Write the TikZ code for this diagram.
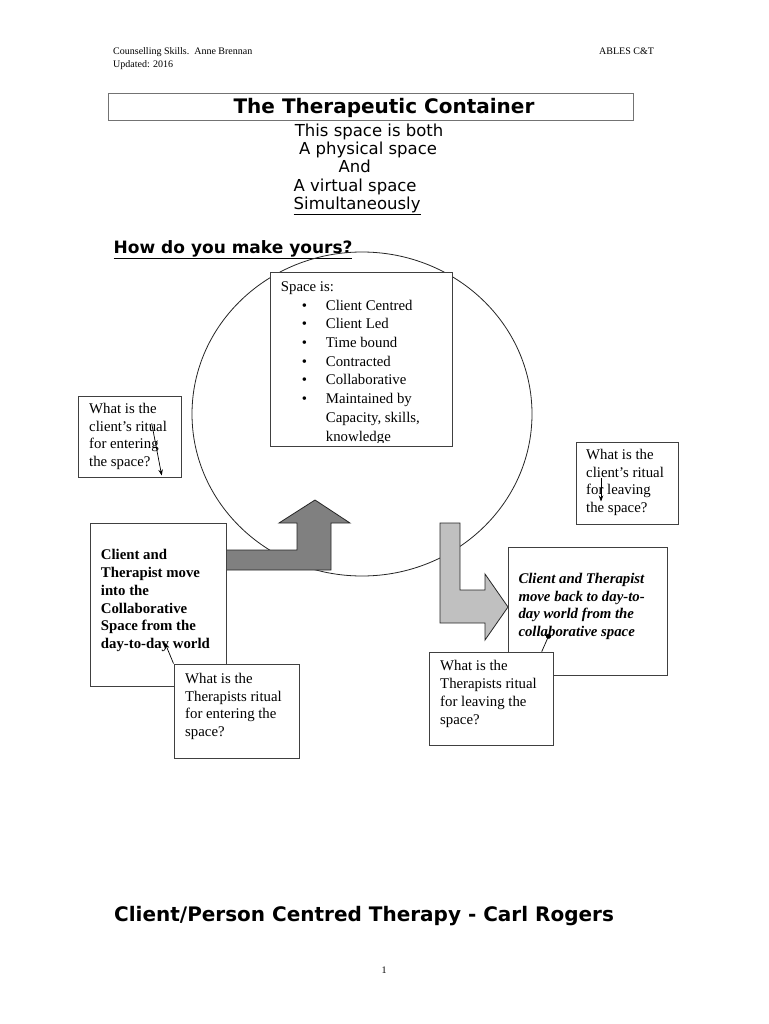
\documentclass[tikz,border=0pt]{standalone}
\usepackage{fontspec}
\setmainfont{Liberation Serif}
\newfontfamily\dvsans{DejaVu Sans}
\usetikzlibrary{arrows.meta}
\definecolor{darkarrow}{HTML}{808080}
\definecolor{lightarrow}{HTML}{C0C0C0}
\definecolor{boxline}{HTML}{404040}
\tikzset{
  box/.style={draw=boxline, line width=0.9pt, fill=white, inner sep=0pt, anchor=north west},
  txt/.style={inner sep=0pt, anchor=base west, align=left, text=black},
  body/.style={txt, font=\fontsize{14.8}{17.8}\selectfont},
  conn/.style={draw=black, line width=0.7pt, -{Stealth[length=6pt,width=4.5pt]}},
  bigarrow/.style={draw=black!85, line width=0.8pt},
}
\begin{document}
\begin{tikzpicture}[x=1pt,y=-1pt]
\useasboundingbox (0,0) rectangle (768,1024);
\fill[white] (0,0) rectangle (768,1024);

% header (base anchor = last line baseline)
\node[txt, font=\fontsize{10}{13}\selectfont] (hdr) at (113,67.5) {Counselling Skills.\ \ Anne Brennan\\Updated: 2016};
\node[txt, font=\fontsize{10}{13}\selectfont] (hdrr) at (599,54.5) {ABLES C\&T};

% title
\node[box, draw=black!55, line width=0.8pt, minimum width=525pt, minimum height=26.5pt] (titlebox) at (107.5,93.5) {};
\node[inner sep=0pt, anchor=base, font=\dvsans\bfseries\fontsize{20}{24}\selectfont] (title) at (384,113.5) {The Therapeutic Container};

\node[txt, font=\dvsans\fontsize{16.5}{18.3}\selectfont] (sub) at (293.5,209.5) {\hspace*{1.1pt}This space is both\\\hspace*{5.5pt}A physical space\\\hspace*{45pt}And\\A virtual space\\\underline{Simultaneously}};

\node[txt, font=\dvsans\bfseries\fontsize{17}{20}\selectfont] (how) at (113.5,253) {\underline{How do you make yours?}};

% circle
\draw[line width=0.8pt, black!85] (362,414) ellipse [x radius=170, y radius=162];

% big arrows
\draw[bigarrow, fill=darkarrow] (226,570) -- (226,550) -- (297,550) -- (297,523) -- (279,523) -- (315,500) -- (350,523) -- (331,523) -- (331,570) -- cycle;
\draw[bigarrow, fill=lightarrow] (440,523) -- (460,523) -- (460,590) -- (485,590) -- (485,574) -- (508,607) -- (485,640) -- (485,623) -- (440,623) -- cycle;

% space box
\node[box, minimum width=181.7pt, minimum height=173.7pt] (spacebox) at (270,272.3) {};
\begin{scope}
\clip (270,272.3) rectangle (451.7,442.5);
\node[txt, font=\fontsize{14.8}{18.7}\selectfont] (spacetxt) at (280.7,441) {Space is:\\
\hspace*{21pt}\makebox[24pt][l]{\textbullet}Client Centred\\
\hspace*{21pt}\makebox[24pt][l]{\textbullet}Client Led\\
\hspace*{21pt}\makebox[24pt][l]{\textbullet}Time bound\\
\hspace*{21pt}\makebox[24pt][l]{\textbullet}Contracted\\
\hspace*{21pt}\makebox[24pt][l]{\textbullet}Collaborative\\
\hspace*{21pt}\makebox[24pt][l]{\textbullet}Maintained by\\
\hspace*{45pt}Capacity, skills,\\
\hspace*{45pt}knowledge};
\end{scope}

% client entering
\node[box, minimum width=102.4pt, minimum height=81.6pt] (centerbox) at (78.3,395.7) {};
\node[body] (centertxt) at (89,466.7) {What is the\\client’s ritual\\for entering\\the space?};

% client leaving
\node[box, minimum width=102pt, minimum height=81.7pt] (cleavebox) at (575.7,442.3) {};
\node[body] (cleavetxt) at (586,512.7) {What is the\\client’s ritual\\for leaving\\the space?};

% left big box
\node[box, minimum width=135.7pt, minimum height=162.7pt] (inbox) at (90,523.3) {};
\node[body, font=\bfseries\fontsize{14.8}{17.9}\selectfont] (intxt) at (100.7,648.8) {Client and\\Therapist move\\into the\\Collaborative\\Space from the\\day-to-day world};

% right big box
\node[box, minimum width=159pt, minimum height=128pt] (outbox) at (508,547) {};
\node[body, font=\bfseries\itshape\fontsize{14.8}{17.8}\selectfont] (outtxt) at (518.3,636.7) {Client and Therapist\\move back to day-to-\\day world from the\\collaborative space};

% therapists entering
\node[box, minimum width=124.4pt, minimum height=93.4pt] (tenterbox) at (174.3,664.3) {};
\node[body] (tentertxt) at (185,736.7) {What is the\\Therapists ritual\\for entering the\\space?};

% therapists leaving
\node[box, minimum width=124pt, minimum height=93pt] (tleavebox) at (429,652) {};
\node[body] (tleavetxt) at (440,724) {What is the\\Therapists ritual\\for leaving the\\space?};

% connectors
\coordinate (a1s) at (151.7,423.3);
\coordinate (a1e) at (161.7,475.5);
\draw[conn] (a1s) -- (a1e);
\coordinate (a2s) at (601,478.3);
\coordinate (a2e) at (601,501.5);
\draw[conn] (a2s) -- (a2e);
\coordinate (a3s) at (173.5,663.5);
\coordinate (a3e) at (165,643);
\draw[conn] (a3s) -- (a3e);
\coordinate (a4s) at (541.7,651.7);
\coordinate (a4e) at (549.5,634);
\draw[conn, -{Circle[length=5pt]}] (a4s) -- (a4e);

% bottom
\node[txt, font=\dvsans\bfseries\fontsize{20}{24}\selectfont] (rogers) at (114,921.5) {Client/Person Centred Therapy - Carl Rogers};
\node[inner sep=0pt, anchor=base, font=\fontsize{10}{12}\selectfont] (pagenum) at (384,973) {1};
\end{tikzpicture}
\end{document}
